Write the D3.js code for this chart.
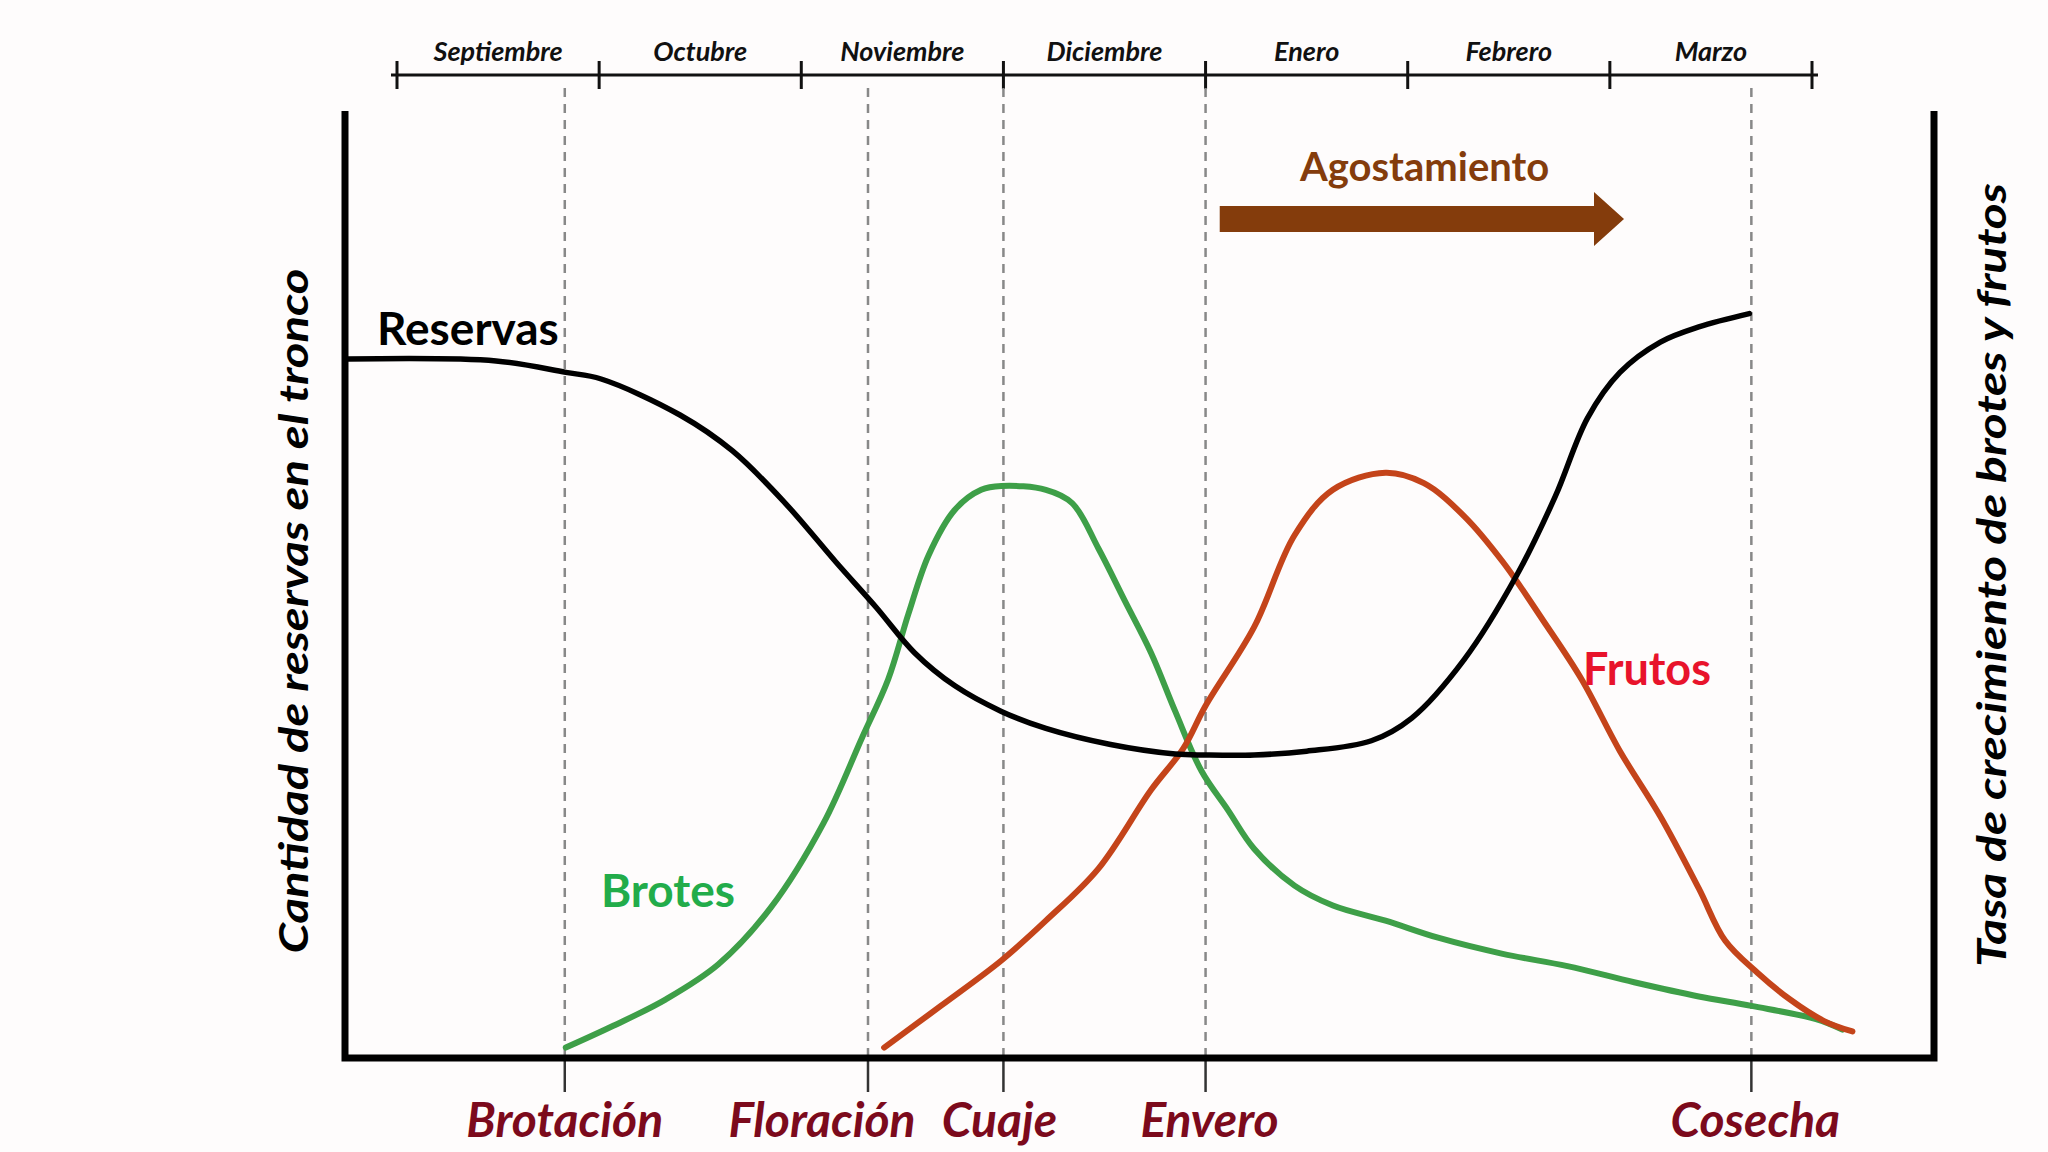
<!DOCTYPE html>
<html>
<head>
<meta charset="utf-8">
<script src="https://cdn.jsdelivr.net/npm/d3@7"></script>
<style>
  body { margin: 0; background: #fefcfc; }
  svg { display: block; }
  text { font-family: Lato, "Open Sans", sans-serif; }
</style>
</head>
<body>
<div id="chart"></div>
<script>
//
// Data
//
var months = ["Septiembre", "Octubre", "Noviembre", "Diciembre", "Enero", "Febrero", "Marzo"];

var phases    = ["Brotación", "Floración", "Cuaje", "Envero", "Cosecha"];
var phaseAt   = [0.83, 2.33, 3.0, 4.0, 6.7];   // months after 1 sept

// [month, value 0-100]
var reservas = [
  [-0.245, 73.8], [0.49, 73.6], [0.835, 72.4], [1.01, 71.7], [1.40, 67.9],
  [1.66, 64.1], [1.92, 58.6], [2.17, 52.4], [2.37, 47.6], [2.56, 42.8],
  [2.76, 39.3], [2.99, 36.6], [3.21, 34.8], [3.53, 33.1], [3.85, 32.1],
  [4.00, 32.0], [4.24, 32.0], [4.50, 32.4], [4.82, 33.5], [5.02, 35.9],
  [5.28, 42.1], [5.54, 51.0], [5.73, 59.3], [5.89, 67.6], [6.05, 72.4],
  [6.25, 75.6], [6.44, 77.2], [6.69, 78.6]
];

var brotes = [
  [0.835, 1.1], [1.07, 3.4], [1.33, 6.2], [1.59, 9.9], [1.85, 15.9],
  [2.11, 24.8], [2.30, 33.8], [2.43, 40.0], [2.53, 46.9], [2.63, 53.1],
  [2.76, 57.9], [2.89, 60.0], [2.99, 60.4], [3.21, 60.0], [3.34, 58.6],
  [3.47, 53.8], [3.60, 48.3], [3.73, 42.8], [3.85, 36.6], [3.98, 30.3],
  [4.11, 26.2], [4.24, 22.1], [4.44, 18.2], [4.63, 16.1], [4.89, 14.5],
  [5.15, 12.7], [5.47, 11.0], [5.79, 9.7], [6.12, 8.0], [6.44, 6.5],
  [6.70, 5.5], [7.02, 4.1], [7.15, 3.0]
];

var frutos = [
  [2.41, 1.1], [2.69, 5.5], [2.99, 10.3], [3.21, 14.5], [3.47, 20.0],
  [3.73, 28.3], [3.89, 32.7], [4.00, 37.2], [4.24, 45.5], [4.44, 55.2],
  [4.63, 60.0], [4.89, 61.8], [5.08, 60.7], [5.28, 57.2], [5.47, 52.4],
  [5.67, 46.2], [5.86, 40.0], [6.05, 32.4], [6.25, 25.5], [6.44, 17.9],
  [6.57, 12.4], [6.73, 9.0], [6.89, 6.2], [7.06, 3.9], [7.20, 2.8]
];

var agostamiento = [4.07, 6.07];   // arrow span, months

//
// Layout
//
var W = 2048, H = 1152;
var frame = { left: 345, right: 1934, top: 111, bottom: 1058 };
var monthAxisY = 75;

var x = d3.scaleLinear().domain([0, 7]).range([397, 1812]);
var y = d3.scaleLinear().domain([0, 100]).range([frame.bottom, frame.top]);

var svg = d3.select("#chart").append("svg")
    .attr("width", W)
    .attr("height", H);

svg.append("rect")
    .attr("width", W).attr("height", H)
    .attr("fill", "#fefcfc");

// month axis on top
var mAxis = svg.append("g").attr("class", "months");

mAxis.append("line")
    .attr("x1", x(0) - 6).attr("x2", x(7) + 6)
    .attr("y1", monthAxisY).attr("y2", monthAxisY)
    .attr("stroke", "#111").attr("stroke-width", 3);

mAxis.selectAll(".mtick")
    .data(d3.range(0, 8))
    .enter().append("line")
    .attr("class", "mtick")
    .attr("x1", function(d) { return x(d); })
    .attr("x2", function(d) { return x(d); })
    .attr("y1", monthAxisY - 14).attr("y2", monthAxisY + 14)
    .attr("stroke", "#111").attr("stroke-width", 3);

mAxis.selectAll(".mlabel")
    .data(months)
    .enter().append("text")
    .attr("class", "mlabel")
    .attr("x", function(d, i) { return x(i + 0.5); })
    .attr("y", monthAxisY - 14)
    .attr("text-anchor", "middle")
    .attr("font-size", 27)
    .attr("font-weight", "bold")
    .attr("font-style", "italic")
    .attr("fill", "#111")
    .text(function(d) { return d; });

// phase dashed lines
svg.selectAll(".pdash")
    .data(phaseAt)
    .enter().append("line")
    .attr("class", "pdash")
    .attr("x1", function(d) { return x(d); })
    .attr("x2", function(d) { return x(d); })
    .attr("y1", 88).attr("y2", frame.bottom)
    .attr("stroke", "#888")
    .attr("stroke-width", 2.5)
    .attr("stroke-dasharray", "9,7");

// phase ticks under the axis
svg.selectAll(".ptick")
    .data(phaseAt)
    .enter().append("line")
    .attr("class", "ptick")
    .attr("x1", function(d) { return x(d); })
    .attr("x2", function(d) { return x(d); })
    .attr("y1", frame.bottom).attr("y2", frame.bottom + 34)
    .attr("stroke", "#333").attr("stroke-width", 2.5);

var phaseDx = [0, -46, -4, 4, 4];
svg.selectAll(".plabel")
    .data(phases)
    .enter().append("text")
    .attr("class", "plabel")
    .attr("x", function(d, i) { return x(phaseAt[i]) + phaseDx[i]; })
    .attr("y", 1137)
    .attr("text-anchor", "middle")
    .attr("font-size", 48)
    .attr("font-weight", "bold")
    .attr("font-style", "italic")
    .attr("fill", "#7c0a1c")
    .text(function(d) { return d; });

// frame
svg.append("path")
    .attr("d", "M" + frame.left + "," + frame.top +
               "V" + frame.bottom + "H" + frame.right + "V" + frame.top)
    .attr("fill", "none")
    .attr("stroke", "#000")
    .attr("stroke-width", 7);

// curves
var line = d3.line()
    .x(function(d) { return x(d[0]); })
    .y(function(d) { return y(d[1]); })
    .curve(d3.curveCatmullRom.alpha(0.5));

svg.append("path").datum(brotes)
    .attr("d", line)
    .attr("fill", "none").attr("stroke", "#3e9f48").attr("stroke-width", 6)
    .attr("stroke-linecap", "round");

svg.append("path").datum(frutos)
    .attr("d", line)
    .attr("fill", "none").attr("stroke", "#c4441a").attr("stroke-width", 6)
    .attr("stroke-linecap", "round");

svg.append("path").datum(reservas)
    .attr("d", line)
    .attr("fill", "none").attr("stroke", "#000").attr("stroke-width", 5.5)
    .attr("stroke-linecap", "round");

// arrow
var ay = 219, bodyH = 13, headH = 27, headL = 30;
var ax0 = x(agostamiento[0]), ax1 = x(agostamiento[1]);
svg.append("path")
    .attr("d", "M" + ax0 + "," + (ay - bodyH) +
               "H" + (ax1 - headL) + "V" + (ay - headH) +
               "L" + ax1 + "," + ay +
               "L" + (ax1 - headL) + "," + (ay + headH) +
               "V" + (ay + bodyH) + "H" + ax0 + "Z")
    .attr("fill", "#843c0c");

// annotations
function note(txt, px, py, color, size) {
    return svg.append("text")
        .attr("x", px).attr("y", py)
        .attr("font-size", size)
        .attr("font-weight", "bold")
        .attr("fill", color)
        .text(txt);
}
note("Reservas", 377, 345, "#000", 46);
note("Agostamiento", 1300, 181, "#843c0c", 40);
note("Brotes", 601, 907, "#22ac4a", 46);
note("Frutos", 1583, 685, "#e8132b", 45);

// axis titles
svg.append("text")
    .attr("transform", "translate(308,611) rotate(-90)")
    .attr("text-anchor", "middle")
    .attr("font-size", 40)
    .attr("font-weight", "bold")
    .attr("font-style", "italic")
    .attr("textLength", 685)
    .attr("lengthAdjust", "spacingAndGlyphs")
    .text("Cantidad de reservas en el tronco");

svg.append("text")
    .attr("transform", "translate(2006,575) rotate(-90)")
    .attr("text-anchor", "middle")
    .attr("font-size", 40)
    .attr("font-weight", "bold")
    .attr("font-style", "italic")
    .attr("textLength", 784)
    .attr("lengthAdjust", "spacingAndGlyphs")
    .text("Tasa de crecimiento de brotes y frutos");
</script>
</body>
</html>
